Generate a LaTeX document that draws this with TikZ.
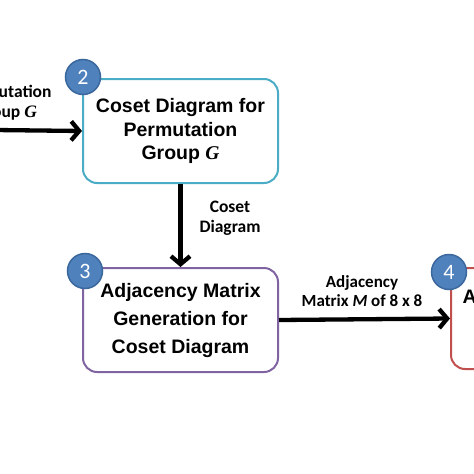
\documentclass[tikz,border=0pt]{standalone}
\usepackage{fontspec}
\setmainfont{Liberation Sans}
\newfontfamily\lblfont{Carlito}
\newfontfamily\grpfont{Liberation Serif}
\usetikzlibrary{arrows.meta}
\definecolor{boxteal}{HTML}{4BACC6}
\definecolor{boxviolet}{HTML}{8064A2}
\definecolor{boxred}{HTML}{C0504D}
\definecolor{numblue}{HTML}{4F81BD}
\definecolor{numedge}{HTML}{3A679C}
\newcommand{\grpG}{{\grpfont\itshape G}}

\begin{document}
\begin{tikzpicture}[x=1pt, y=-1pt,
  stagebox/.style={draw, line width=2pt, rounded corners=14pt, fill=white,
    minimum width=195pt, minimum height=104pt, align=center,
    font=\bfseries\fontsize{19.5}{23.5}\selectfont},
  stagenum/.style={circle, fill=numblue, draw=numedge, line width=1.5pt,
    minimum size=35pt, inner sep=0pt, text=white,
    font=\lblfont\fontsize{22}{22}\selectfont},
  flow/.style={line width=4.3pt, -{Straight Barb[length=8pt,width=19pt]}},
  flowlabel/.style={align=center, font=\lblfont\bfseries\fontsize{17.5}{20}\selectfont}]
	% Frame
	\useasboundingbox (0,0) rectangle (474,474);
	\clip (0,0) rectangle (474,474);
	\fill[white] (0,0) rectangle (474,474);

	% Boxes
	\node[stagebox, draw=boxteal] (coset) at (180.5,131) {Coset Diagram for\\Permutation\\Group \grpG};
	\node[stagebox, draw=boxviolet, font=\bfseries\fontsize{19.5}{28}\selectfont] (adjgen) at (180.5,320) {Adjacency Matrix\\Generation for\\Coset Diagram};
	\node[stagebox, draw=boxred, minimum height=101pt] (apply) at (548.5,318.5) {};
	\node[anchor=west, font=\bfseries\fontsize{19.5}{23.5}\selectfont] (applytxt) at (459,297) {A};

	% Step numbers
	\node[stagenum] (num2) at (83,77) {2};
	\node[stagenum] (num3) at (85,271) {3};
	\node[stagenum] (num4) at (449,272) {4};

	% Arrows
	\coordinate (start) at (-5,130);
	\draw[flow] (start) -- (coset.west);
	\draw[flow] (coset.south) -- (adjgen.north);
	\draw[flow] (adjgen.east) -- (apply.west);

	% Arrow labels
	\node[flowlabel] (permlbl) at (6,103) {Permutation\\Group \grpG};
	\node[flowlabel] (cosetlbl) at (230,218) {Coset\\Diagram};
	\node[flowlabel, font=\lblfont\bfseries\fontsize{17}{19}\selectfont] (matlbl) at (362,291) {Adjacency\\Matrix \textit{M} of 8 x 8};
\end{tikzpicture}
\end{document}
